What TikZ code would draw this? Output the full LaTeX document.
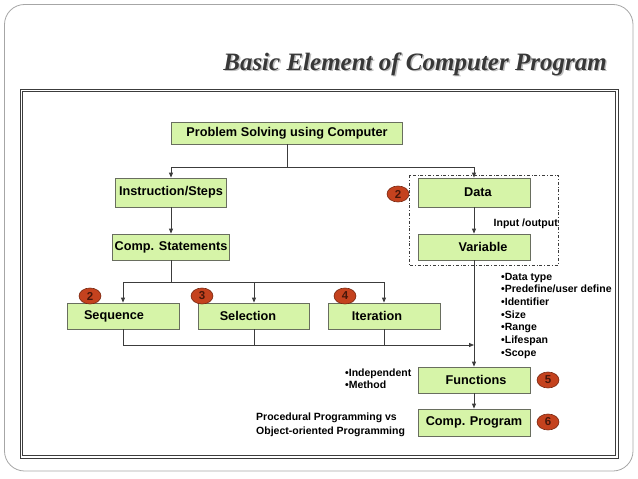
\documentclass[tikz,border=0pt]{standalone}
\usepackage{fontspec}
\setmainfont{Liberation Sans}
\newfontfamily\titlefont{Liberation Serif}
\usetikzlibrary{arrows.meta,shapes.geometric}
\definecolor{boxgreen}{RGB}{214,244,168}
\definecolor{boxline}{RGB}{105,110,95}
\definecolor{badgefill}{RGB}{196,66,30}
\definecolor{badgeline}{RGB}{120,40,18}
\definecolor{badgetext}{RGB}{70,22,10}
\definecolor{linecol}{RGB}{60,60,60}
\tikzset{
  gbox/.style={draw=boxline, fill=boxgreen, line width=0.8pt, inner sep=0pt,
    font=\fontsize{12.7}{14}\selectfont\bfseries},
  badge/.style={ellipse, draw=badgeline, fill=badgefill, line width=0.6pt,
    minimum width=22pt, minimum height=16pt, inner sep=0pt,
    font=\fontsize{11.5}{12}\selectfont\bfseries, text=badgetext},
  conn/.style={draw=linecol, line width=0.8pt},
  arr/.style={conn, -{Triangle[length=5pt,width=4pt]}},
  note/.style={inner sep=0pt, font=\fontsize{10.5}{12.8}\selectfont\bfseries},
}
\begin{document}
\begin{tikzpicture}[x=1pt,y=-1pt]
\useasboundingbox (0,0) rectangle (638,479);
% frames
\draw[gray!70, line width=0.8pt, rounded corners=20pt] (4.5,4.5) rectangle (633,471);
\draw[linecol, line width=1pt] (20.5,89) rectangle (618,458);
\draw[linecol, line width=0.7pt] (22.8,91.3) rectangle (615.7,455.7);
% title
\node[text=gray!50, font=\titlefont\fontsize{25}{28}\selectfont\bfseries\itshape, anchor=base]
  (titleshadow) at (416.5,71.5) {Basic Element of Computer Program};
\node[text=black!78, font=\titlefont\fontsize{25}{28}\selectfont\bfseries\itshape, anchor=base]
  (title) at (415,70) {Basic Element of Computer Program};
% boxes
\node[gbox, minimum width=231pt, minimum height=22pt] (psc) at (287,133) {Problem Solving using Computer};
\node[gbox, minimum width=111pt, minimum height=29pt] (is) at (171,192.5) {Instruction/Steps};
\node[gbox, minimum width=117pt, minimum height=26pt] (cs) at (171,247) {Comp. Statements};
\node[gbox, minimum width=112pt, minimum height=29pt] (data) at (474,192.5) {\hspace*{8pt}Data};
\node[gbox, minimum width=112pt, minimum height=26pt] (var) at (474,247) {\hspace*{18pt}Variable};
\node[gbox, minimum width=112pt, minimum height=26pt] (seq) at (123,316) {\hspace*{-18pt}Sequence};
\node[gbox, minimum width=111pt, minimum height=26pt] (sel) at (254,316) {\hspace*{-12pt}Selection};
\node[gbox, minimum width=112pt, minimum height=26pt] (ite) at (384,316) {\hspace*{-14pt}Iteration};
\node[gbox, minimum width=112pt, minimum height=26pt] (fun) at (474,380) {\hspace*{4pt}Functions};
\node[gbox, minimum width=112pt, minimum height=27pt] (prog) at (474,422.5) {Comp. Program};
% badges
\node[badge] (b2a) at (398,194) {2};
\node[badge] (b2b) at (90,296) {2};
\node[badge] (b3) at (202,296) {3};
\node[badge] (b4) at (345,296) {4};
\node[badge] (b5) at (548,380) {5};
\node[badge] (b6) at (548,422) {6};
% dash-dot group
\draw[linecol, line width=0.6pt, dash dot] (409,175) rectangle (558,265);
\node[note, anchor=east] (io) at (558,224) {Input /output};
% connectors
\coordinate (top) at (0,167);
\coordinate (bar1) at (0,282);
\coordinate (bar2) at (0,345);
\draw[conn] (psc.south) -- (psc.south |- top);
\draw[arr] (psc.south |- top) -| (is.north);
\draw[arr] (psc.south |- top) -| (data.north);
\draw[arr] (is.south) -- (cs.north);
\draw[arr] (data.south) -- (var.north);
\draw[conn] (cs.south) -- (cs.south |- bar1);
\draw[conn] (seq.north |- bar1) -- (ite.north |- bar1);
\draw[arr] (seq.north |- bar1) -- (seq.north);
\draw[arr] (sel.north |- bar1) -- (sel.north);
\draw[arr] (ite.north |- bar1) -- (ite.north);
\draw[conn] (sel.south) -- (sel.south |- bar2);
\draw[conn] (ite.south) -- (ite.south |- bar2);
\draw[arr] (seq.south) |- (var.south |- bar2);
\draw[arr] (var.south) -- (fun.north);
\draw[arr] (fun.south) -- (prog.north);
% notes
\foreach \t [count=\i] in {Data type,Predefine/user define,Identifier,Size,Range,Lifespan,Scope}
  \node[note, anchor=base west] (vn\i) at (501,{280+(\i-1)*12.7}) {\textbullet\t};
\node[note, anchor=base west] (fn1) at (345,376) {\textbullet Independent};
\node[note, anchor=base west] (fn2) at (345,388) {\textbullet Method};
\node[note, anchor=base west] (pp1) at (256,420) {Procedural Programming vs};
\node[note, anchor=base west] (pp2) at (256,434) {Object-oriented Programming};
\end{tikzpicture}
\end{document}
